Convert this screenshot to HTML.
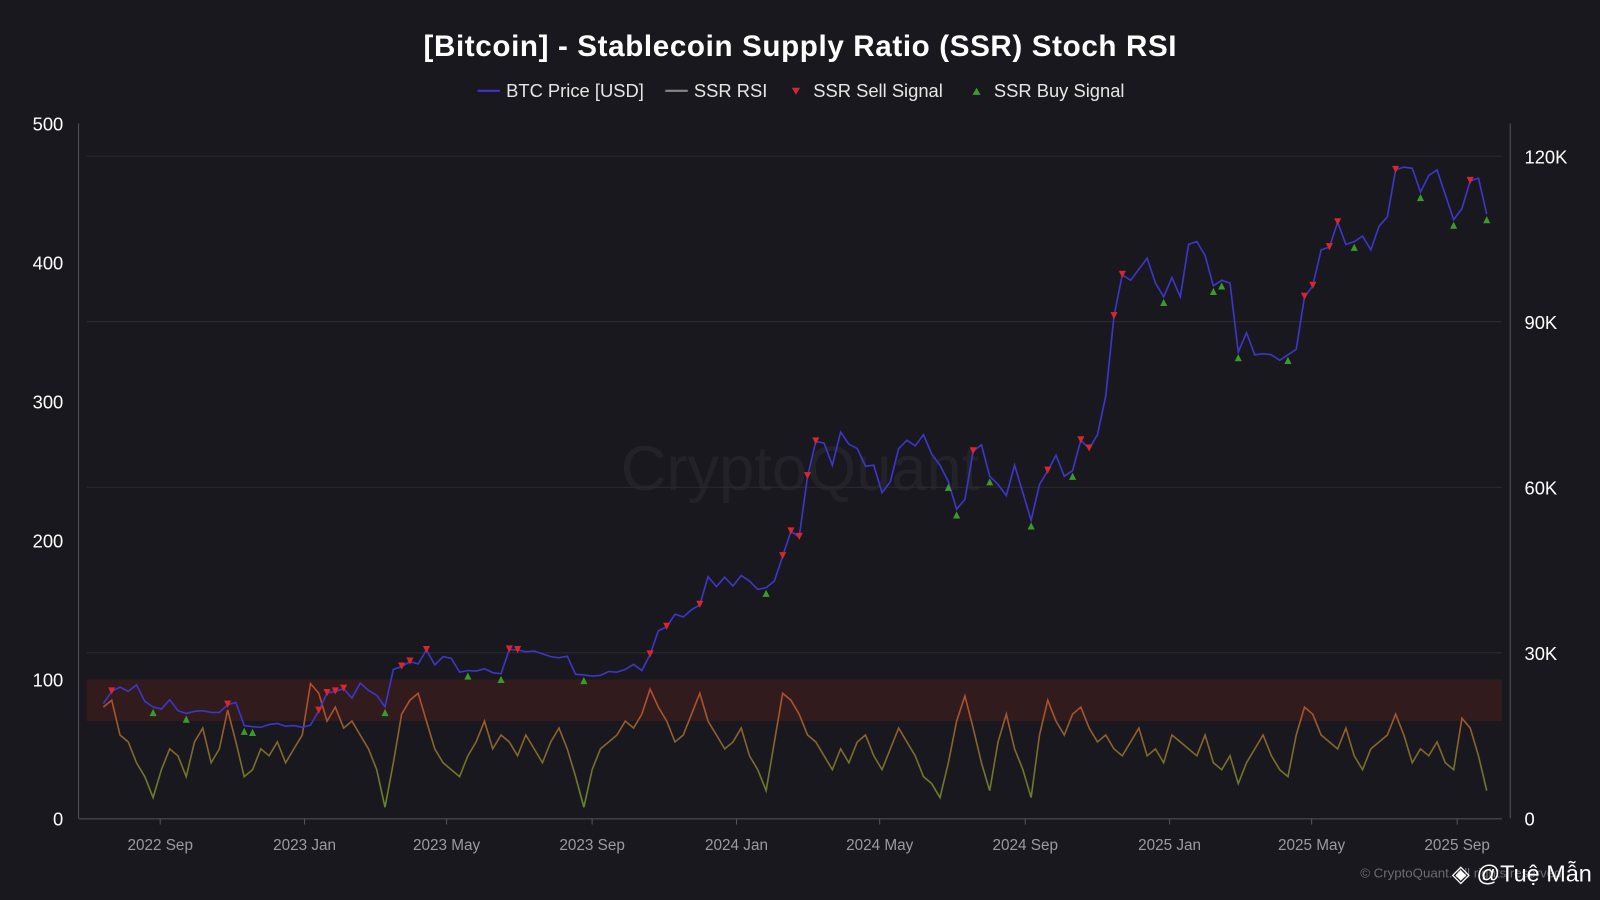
<!DOCTYPE html>
<html><head><meta charset="utf-8"><style>
html,body{margin:0;padding:0;background:#19181e;width:1600px;height:900px;overflow:hidden}
svg{display:block;font-family:"Liberation Sans",sans-serif}
</style></head><body>
<svg id="chart" width="1600" height="900" viewBox="0 0 1568 882" xmlns="http://www.w3.org/2000/svg">
<defs>
<linearGradient id="rsiGrad" gradientUnits="userSpaceOnUse" x1="0" y1="802" x2="0" y2="666">
<stop offset="0" stop-color="#5f8a2c"/><stop offset="0.45" stop-color="#7a6a2e"/><stop offset="1" stop-color="#c0452e"/>
</linearGradient>
</defs>
<rect width="1568" height="882" fill="#19181e"/>
<text x="784" y="55" text-anchor="middle" fill="#ffffff" font-size="29" font-weight="bold" textLength="738">[Bitcoin] - Stablecoin Supply Ratio (SSR) Stoch RSI</text>
<g font-size="18" fill="#e6e6e6">
<g><line x1="468" y1="89" x2="490" y2="89" stroke="#3d36c8" stroke-width="2"/><text x="496" y="95">BTC Price [USD]</text></g>
<g><line x1="652" y1="89" x2="674" y2="89" stroke="#888" stroke-width="2"/><text x="680" y="95">SSR RSI</text></g>
<g><path d="M776 86 L784 86 L780 93 Z" fill="#d8262e"/><text x="797" y="95">SSR Sell Signal</text></g>
<g><path d="M953 93 L961 93 L957 86 Z" fill="#3a9a2a"/><text x="974" y="95">SSR Buy Signal</text></g>
</g>
<text x="784" y="480" text-anchor="middle" fill="#232228" font-size="62">CryptoQuant</text>
<g id="grid"></g>
<rect id="band" fill="#3a1c1e" opacity="0.75"/>
<g id="axes"></g>
<g id="series"></g>
<text x="1333" y="860" fill="#6b6b72" font-size="13">© CryptoQuant. All rights reserved.</text>
<text x="1560" y="864" text-anchor="end" fill="#ffffff" font-size="23">◈ @Tuệ Mẫn</text>
</svg>
<script>
const startDate = "2022-07-15";
const btcPriceK = [20.8,23,23.8,23,24.2,21.2,20.2,19.8,21.5,19.5,19,19.4,19.5,19.2,19.2,20.6,21,16.8,16.6,16.5,17,17.2,16.7,16.8,16.5,
16.9,19.5,22.7,23,23.5,21.8,24.5,23.2,22.3,20.2,27,27.5,28.4,28,30.5,27.8,29.3,29,26.5,26.8,26.7,27.1,26.4,26.2,30.6,30.5,30.2,30.3,29.8,29.3,29.1,29.4,26.1,26,25.8,25.9,26.6,26.5,27,27.9,26.8,29.7,34,34.7,37,36.5,37.8,38.7,43.8,42,43.7,42.1,
44,43,41.5,41.8,43,47.5,52,51,62,68.3,68,64,70,67.8,67,63.8,64,59,61,67,68.5,67.5,69.5,66,64,61,56,57.8,66.5,67.7,62,60.5,58.5,64,59,54,60.5,63,65.8,62,63,68.5,67,69.5,76.5,91,98.5,97.5,99.5,101.5,97,94.5,
98,94.5,104,104.5,102,96.5,97.5,97,84.5,88,84,84.2,84,83,84,85,94.5,96.5,103,103.5,108,104,104.5,105.5,103,107.3,109,117.5,118,117.8,113.5,116.5,117.5,113,108.5,110.5,115.5,116,109.5];
const ssrRsi = [80,85,60,55,40,30,15,35,50,45,30,55,65,40,50,78,55,30,35,50,45,55,40,50,60,97,90,70,80,65,70,60,50,35,8,40,75,85,90,70,
50,40,35,30,45,55,70,50,60,55,45,60,50,40,55,65,50,30,8,35,50,55,60,70,65,75,93,80,70,55,60,75,90,70,60,50,55,65,45,35,
20,55,90,85,75,60,55,45,35,50,40,55,60,45,35,50,65,55,45,30,25,15,40,70,88,65,40,20,55,75,50,35,15,60,85,70,60,75,80,65,
55,60,50,45,55,65,45,50,40,60,55,50,45,60,40,35,45,25,40,50,60,45,35,30,60,80,75,60,55,50,65,45,35,50,55,60,75,60,40,50,45,55,40,35,72,65,45,20];
const sellWeeks = [1,15,26,27,28,29,36,37,39,49,50,66,68,72,82,83,84,85,86,105,114,118,119,122,123,145,146,148,149,156,165];
const buyWeeks = [6,10,17,18,34,44,48,58,80,102,103,107,112,117,128,134,135,137,143,151,159,163,167];
const leftTicks = [0,100,200,300,400,500];
const rightTicks = [0,30,60,90,120];
const xTickLabels = ["2022 Sep","2023 Jan","2023 May","2023 Sep","2024 Jan","2024 May","2024 Sep","2025 Jan","2025 May","2025 Sep"];
const xTickDates = ["2022-09-01","2023-01-01","2023-05-01","2023-09-01","2024-01-01","2024-05-01","2024-09-01","2025-01-01","2025-05-01","2025-09-01"];

const NS="http://www.w3.org/2000/svg";
const day=86400000, t0=Date.parse("2022-09-01");
const xDate = d => 157 + (Date.parse(d)-t0)/day*1.1597;
const xWeek = i => xDate(startDate) + i*7*1.1597;
const yLeft = v => 802 - v*1.362;
const yRight = k => 802 - k/30*162.25;
function mk(tag, attrs, parent){const e=document.createElementNS(NS,tag);for(const k in attrs)e.setAttribute(k,attrs[k]);parent.appendChild(e);return e;}
const grid=document.getElementById('grid'), axes=document.getElementById('axes'), series=document.getElementById('series');
rightTicks.forEach(k=>{
  if(k>0){const l=mk('line',{x1:85,x2:1472,y1:yRight(k),y2:yRight(k),stroke:'#2a2a31','stroke-width':1},grid);
  
  }
  const t=mk('text',{x:1494,y:yRight(k)+7,fill:'#ffffff','font-size':18},axes);t.textContent=k===0?'0':k+'K';
  
  
});
leftTicks.forEach(v=>{
  const t=mk('text',{x:62,y:yLeft(v)+7,fill:'#ffffff','font-size':18,'text-anchor':'end'},axes);t.textContent=v;
  
  
});
const band=document.getElementById('band');
band.setAttribute('x',85);band.setAttribute('width',1387);band.setAttribute('y',yLeft(100));band.setAttribute('height',yLeft(70)-yLeft(100));
mk('line',{x1:77,x2:77,y1:121,y2:802,stroke:'#555',"stroke-width":1},axes);
mk('line',{x1:1480,x2:1480,y1:121,y2:802,stroke:'#555',"stroke-width":1},axes);
mk('line',{x1:77,x2:1472,y1:802.5,y2:802.5,stroke:'#555',"stroke-width":1},axes);
xTickLabels.forEach((lab,i)=>{
  const x=xDate(xTickDates[i]);
  mk('line',{x1:x,x2:x,y1:802,y2:808,stroke:'#555'},axes);
  const t=mk('text',{x:x,y:833,fill:'#9a9aa2','font-size':15,'text-anchor':'middle'},axes);t.textContent=lab;
  
  
});
const rsiPath=mk('path',{d:ssrRsi.map((v,i)=>(i?'L':'M')+xWeek(i).toFixed(1)+' '+yLeft(v).toFixed(1)).join(''),fill:'none',stroke:'url(#rsiGrad)','stroke-width':1.6},series);


const pricePath=mk('path',{d:btcPriceK.map((v,i)=>(i?'L':'M')+xWeek(i).toFixed(1)+' '+yRight(v).toFixed(1)).join(''),fill:'none',stroke:'#3d36c8','stroke-width':1.6},series);


sellWeeks.forEach(i=>{
  const x=xWeek(i), y=yRight(btcPriceK[i]);
  const p=mk('path',{d:`M${x-3.5} ${y-4} L${x+3.5} ${y-4} L${x} ${y+3} Z`,fill:'#d8262e'},series);
  
  
});
buyWeeks.forEach(i=>{
  const x=xWeek(i), y=yRight(btcPriceK[i])+6;
  const p=mk('path',{d:`M${x-3.5} ${y+3} L${x+3.5} ${y+3} L${x} ${y-4} Z`,fill:'#3a9a2a'},series);
  
  
});
</script>
</body></html>
